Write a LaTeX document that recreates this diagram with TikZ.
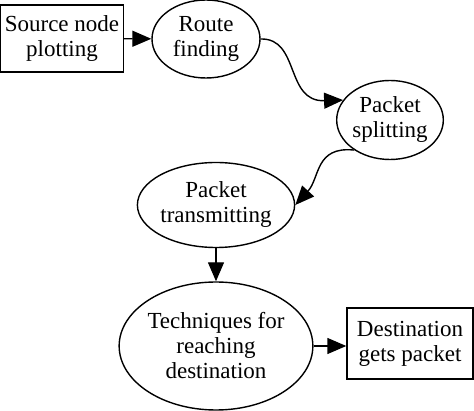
\documentclass[tikz,border=0pt]{standalone}
\usepackage{fontspec}
\setmainfont{Liberation Serif}
\usetikzlibrary{arrows.meta,shapes.geometric}
\begin{document}
\begin{tikzpicture}[x=1pt,y=-1pt,
  every node/.style={font=\fontsize{23}{25}\selectfont, align=center, inner sep=0pt, line width=1.4pt},
  boxn/.style={draw, rectangle},
  elln/.style={draw, ellipse},
  conn/.style={line width=1.4pt, -{Triangle[length=19pt,width=16pt]}}]
\useasboundingbox (0,0) rectangle (474,411);
\clip (0,0) rectangle (474,411);
\node[boxn, minimum width=123pt, minimum height=67pt] (src) at (62,38.5) {Source node\\plotting};
\node[elln, minimum width=108pt, minimum height=78pt] (rf) at (206,39) {Route\\finding};
\node[elln, minimum width=106pt, minimum height=79pt] (ps) at (390,120) {Packet\\splitting};
\node[elln, minimum width=134pt, minimum height=85pt] (pt) at (216,205) {Packet\\transmitting};
\node[elln, minimum width=175pt, minimum height=128pt] (tr) at (216,346) {Techniques for\\reaching\\destination};
\node[boxn, minimum width=126pt, minimum height=71pt] (dst) at (410,343.5) {Destination\\gets packet};
\draw[conn] (src) -- (rf);
\draw[conn] (rf.east) .. controls (300,38) and (285,102) .. (ps.157);
\draw[conn] (ps.220) .. controls (315,146) and (320,178) .. (pt.east);
\draw[conn] (pt) -- (tr);
\draw[conn] (tr.east) -- (tr.east -| dst.west);
\end{tikzpicture}
\end{document}
